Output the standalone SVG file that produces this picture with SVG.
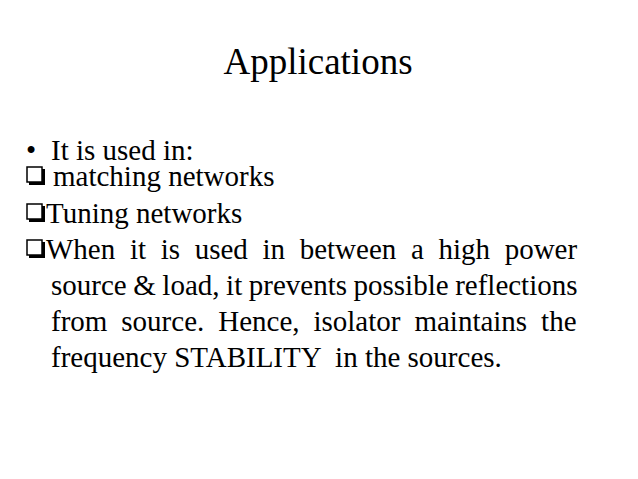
<svg xmlns="http://www.w3.org/2000/svg" width="638" height="479" viewBox="0 0 638 479">
<style>
.t{font-family:"Liberation Serif","Times New Roman",serif;font-size:29px;fill:#000}
.ttl{font-family:"Liberation Serif","Times New Roman",serif;font-size:37px;fill:#000}
.box{fill:#fff;stroke:#000;stroke-width:1.5}
.sh{fill:#000}
</style>
<rect width="638" height="479" fill="#fff"/>
<text class="ttl" x="318" y="74" text-anchor="middle">Applications</text>
<text class="t" x="26" y="160">•</text>
<text class="t" x="51" y="160">It is used in:</text>
<defs>
<g id="cb"><rect class="sh" x="2" y="2" width="16" height="16"/><rect class="box" x="0" y="0" width="15" height="15"/></g>
</defs>
<use href="#cb" x="27" y="167"/>
<text class="t" x="53" y="186">matching networks</text>
<use href="#cb" x="27" y="204"/>
<text class="t" x="46" y="223">Tuning networks</text>
<use href="#cb" x="27" y="240"/>
<text class="t" x="46" y="259" word-spacing="7.4">When it is used in between a high power</text>
<text class="t" x="51" y="295" word-spacing="-0.7">source &amp; load, it prevents possible reflections</text>
<text class="t" x="51" y="331" word-spacing="6.7">from source. Hence, isolator maintains the</text>
<text class="t" x="51" y="367" xml:space="preserve">frequency STABILITY  in the sources.</text>
</svg>
